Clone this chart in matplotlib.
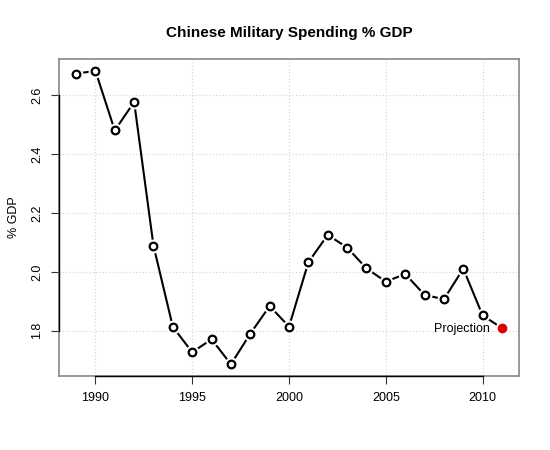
import matplotlib
matplotlib.use('Agg')
import matplotlib.pyplot as plt
import matplotlib.transforms as mtransforms

plt.rcParams['font.family'] = ['Liberation Sans', 'DejaVu Sans']

years = list(range(1989, 2012))
gdp_pct = [2.674, 2.684, 2.481, 2.578, 2.089, 1.813, 1.727, 1.771, 1.686, 1.790,
           1.884, 1.814, 2.033, 2.126, 2.083, 2.012, 1.967, 1.993, 1.922, 1.907,
           2.011, 1.852, 1.809]
xticks = [1990, 1995, 2000, 2005, 2010]
yticks = [1.8, 2.0, 2.2, 2.4, 2.6]
ytick_labels = ['1.8', '2.0', '2.2', '2.4', '2.6']

fig = plt.figure(figsize=(5.5, 4.5), dpi=100)
ax = fig.add_axes([0.1073, 0.1644, 0.8364, 0.7044])

# R-style 4% padding
xr = years[-1] - years[0]
ax.set_xlim(years[0] - 0.04 * xr, years[-1] + 0.04 * xr)
yr = max(gdp_pct) - min(gdp_pct)
ax.set_ylim(min(gdp_pct) - 0.04 * yr, max(gdp_pct) + 0.04 * yr)

# grid
for x in xticks:
    ax.axvline(x, color='#d3d3d3', lw=0.8, ls=(0, (1, 2)), zorder=0)
for y in yticks:
    ax.axhline(y, color='#d3d3d3', lw=0.8, ls=(0, (1, 2)), zorder=0)

# line with gaps (type = "b")
ax.plot(years, gdp_pct, color='black', lw=1.5, zorder=2)
ax.plot(years[:-1], gdp_pct[:-1], 'o', ms=9, color='white', mec='white', zorder=3)
ax.plot(years[:-1], gdp_pct[:-1], 'o', ms=5.5, mfc='white', mec='black', mew=1.6, zorder=4)
ax.plot(years[-1:], gdp_pct[-1:], 'o', ms=9, color='white', mec='white', zorder=3)
ax.plot(years[-1:], gdp_pct[-1:], 'o', ms=6, color='#dd0000', mec='#dd0000', zorder=4)
ax.annotate('Projection', (years[-1], gdp_pct[-1]), xytext=(-9, -1),
            textcoords='offset points', ha='right', va='center', fontsize=9)

# box and axes
for s in ax.spines.values():
    s.set_color('#888888')
    s.set_linewidth(1.2)
ax.set_xticks(xticks)
ax.set_xticklabels([str(x) for x in xticks])
ax.set_yticks(yticks)
ax.set_yticklabels(ytick_labels, rotation=90, va='center')
ax.tick_params(direction='out', length=5.5, width=0.8, color='#333333',
               labelsize=9, pad=6)

tb = mtransforms.blended_transform_factory(ax.transData, ax.transAxes)
ax.plot([xticks[0], xticks[-1]], [0, 0], color='black', lw=1, transform=tb,
        clip_on=False, zorder=5)
tl = mtransforms.blended_transform_factory(ax.transAxes, ax.transData)
ax.plot([0, 0], [yticks[0], yticks[-1]], color='black', lw=1, transform=tl,
        clip_on=False, zorder=5)

ax.set_ylabel('% GDP', fontsize=9, labelpad=8)
ax.set_title('Chinese Military Spending % GDP', fontsize=11, fontweight='bold',
             pad=16)

fig.savefig('out.png', dpi=100)
